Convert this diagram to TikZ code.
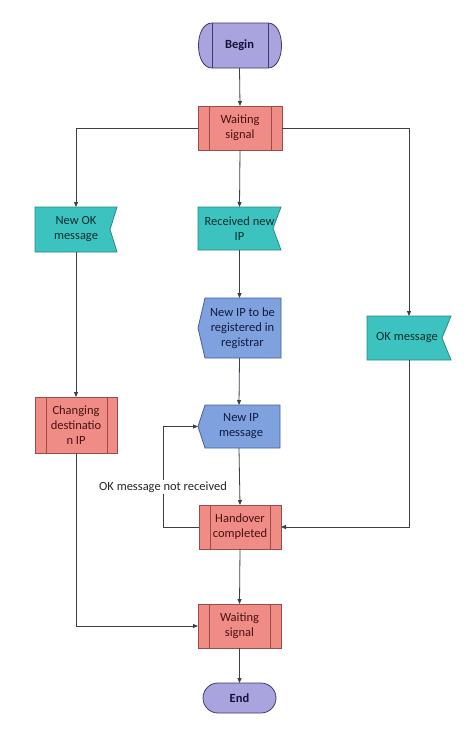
\documentclass[tikz,border=0pt]{standalone}
\usepackage{fontspec}
\setmainfont{Carlito}
\usetikzlibrary{arrows.meta}
\definecolor{lavf}{HTML}{A9A4DE}
\definecolor{lavd}{HTML}{3E3A70}
\definecolor{lavt}{HTML}{14123A}
\definecolor{salf}{HTML}{F08C86}
\definecolor{sald}{HTML}{9C4A4A}
\definecolor{salt}{HTML}{4A1212}
\definecolor{tealf}{HTML}{3CC2BF}
\definecolor{teald}{HTML}{2A8A88}
\definecolor{tealt}{HTML}{0A2F32}
\definecolor{bluf}{HTML}{7FA1DD}
\definecolor{blud}{HTML}{45609A}
\definecolor{blut}{HTML}{101C40}
\definecolor{lnc}{HTML}{3A3F4A}
\tikzset{
  term/.style={fill=lavf, draw=lavd, line width=0.8pt},
  proc/.style={fill=salf, draw=sald, line width=0.8pt},
  flagbox/.style={fill=tealf, draw=teald, line width=0.8pt},
  dispbox/.style={fill=bluf, draw=blud, line width=0.8pt},
  txt/.style={inner sep=0pt, outer sep=0pt, align=center, font=\fontsize{12.5}{15}\selectfont},
  arr/.style={draw=lnc, line width=0.8pt, -{Triangle[length=5pt,width=4pt]}},
}
\begin{document}
\begin{tikzpicture}[x=1pt,y=-1pt]
\fill[white] (0,0) rectangle (474,739);
\useasboundingbox (0,0) rectangle (474,739);
% shapes
\draw[term] (212,23) -- (268,23) .. controls (286,23) and (286,68) .. (268,68) -- (212,68) .. controls (194,68) and (194,23) .. (212,23) -- cycle;
\draw[lavd, line width=0.8pt] (212,23) -- (212,68) (268,23) -- (268,68);
\draw[proc] (198,106) rectangle (282,150);
\draw[sald, line width=0.8pt] (209,106) -- (209,150) (271,106) -- (271,150);
\draw[flagbox] (35,207) -- (117,207) -- (110,229.5) -- (117,252) -- (35,252) -- cycle;
\draw[flagbox] (198,207) -- (281,207) -- (273,228.5) -- (281,250) -- (198,250) -- cycle;
\draw[dispbox] (205,298) -- (281,298) -- (281,358) -- (205,358) -- (198,328) -- cycle;
\draw[flagbox] (367,316) -- (451,316) -- (442,338) -- (451,360) -- (367,360) -- cycle;
\draw[proc] (35,397) rectangle (117,453);
\draw[sald, line width=0.8pt] (46,397) -- (46,453) (107,397) -- (107,453);
\draw[dispbox] (205,405) -- (280,405) -- (280,448) -- (205,448) -- (198,426.5) -- cycle;
\draw[proc] (199,505) rectangle (281,549);
\draw[sald, line width=0.8pt] (210,505) -- (210,549) (270,505) -- (270,549);
\draw[proc] (198,604) rectangle (281,648);
\draw[sald, line width=0.8pt] (209,604) -- (209,648) (270,604) -- (270,648);
\draw[term, rounded corners=15pt] (203,683) rectangle (276,713);
% nodes
\node[txt, minimum width=83pt, minimum height=45pt, text=lavt, font=\fontsize{12.5}{15}\selectfont\bfseries] (begin) at (239.5,45.5) {Begin};
\node[txt, minimum width=84pt, minimum height=44pt, text=salt] (w1) at (240,128) {Waiting\\signal};
\node[txt, minimum width=82pt, minimum height=45pt, text=tealt] (newok) at (76,229.5) {New OK\\message};
\node[txt, minimum width=83pt, minimum height=43pt, text=tealt] (recv) at (239.5,228.5) {Received new\\IP};
\node[txt, minimum width=83pt, minimum height=60pt, text=blut] (reg) at (239.5,328) {\hspace*{6pt}New IP to be\\\hspace*{6pt}registered in\\\hspace*{6pt}registrar};
\node[txt, minimum width=84pt, minimum height=44pt, text=tealt] (okm) at (409,338) {OK message\hspace*{4pt}};
\node[txt, minimum width=82pt, minimum height=56pt, text=salt] (chg) at (76,425) {Changing\\destinatio\\n IP};
\node[txt, minimum width=82pt, minimum height=43pt, text=blut] (nim) at (239,426.5) {\hspace*{4pt}New IP\\\hspace*{4pt}message};
\node[txt, minimum width=82pt, minimum height=44pt, text=salt] (hand) at (240,527) {Handover\\completed};
\node[txt, minimum width=83pt, minimum height=44pt, text=salt] (w2) at (239.5,626) {Waiting\\signal};
\node[txt, minimum width=73pt, minimum height=30pt, text=lavt, font=\fontsize{12.5}{15}\selectfont\bfseries] (endn) at (239.5,698) {End};
% connectors
\draw[arr] (begin.south) -- (w1.north);
\draw[arr] (w1.west) -| (newok.north);
\draw[arr] (w1.east) -| (okm.north);
\draw[arr] (w1.south) -- (recv.north);
\draw[arr] (recv.south) -- (reg.north);
\draw[arr] (reg.south) -- (nim.north);
\draw[arr] (nim.south) -- (hand.north);
\draw[arr] (hand.south) -- (w2.north);
\draw[arr] (w2.south) -- (endn.north);
\draw[arr] (newok.south) -- (chg.north);
\draw[arr] (chg.south) |- (w2.west);
\draw[arr] (okm.south) |- (hand.east);
\coordinate (lp) at (163,527);
\draw[arr] (hand.west) -- (lp) |- (nim.west);
\node[fill=white, inner sep=1.5pt, text=black!85, font=\fontsize{12.5}{15}\selectfont] (lbl) at (163,487) {OK message not received};
\end{tikzpicture}
\end{document}
